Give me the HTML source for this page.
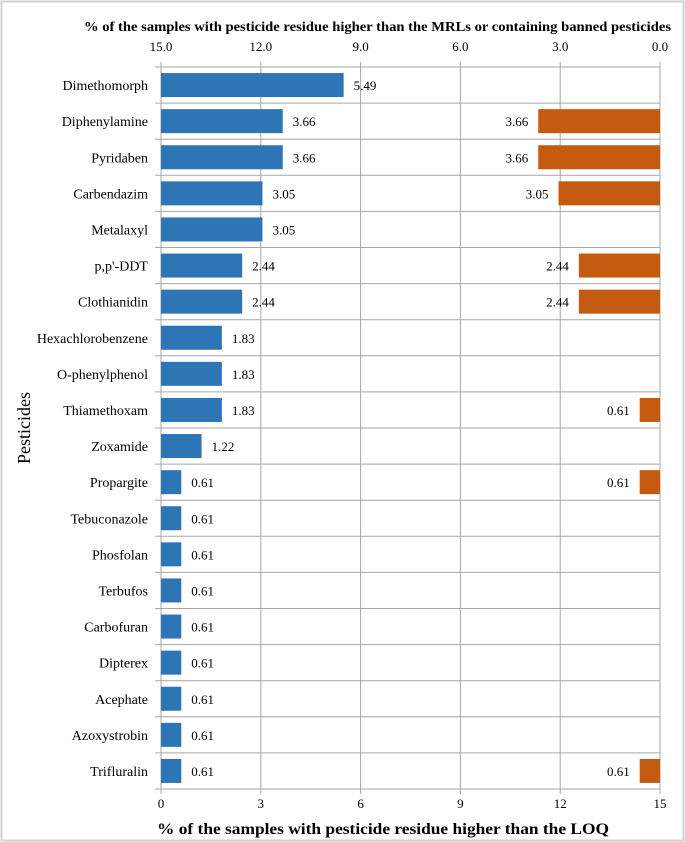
<!DOCTYPE html>
<html><head><meta charset="utf-8"><style>
body{margin:0;background:#fff}
svg{display:block;font-family:"Liberation Serif",serif}
</style></head><body>
<svg id="c" width="685" height="842">
<rect x="1.5" y="1.5" width="682" height="839" fill="#fff" stroke="#d0d0d0" stroke-width="2"/>
<text x="84" y="31" font-size="14" font-weight="bold" textLength="587" lengthAdjust="spacingAndGlyphs">% of the samples  with pesticide residue higher than the MRLs or containing banned pesticides</text>
<text x="157" y="834" font-size="16" font-weight="bold" textLength="452" lengthAdjust="spacingAndGlyphs">% of the samples with pesticide residue higher than the LOQ</text>
<text transform="translate(30,428) rotate(-90)" text-anchor="middle" font-size="18">Pesticides</text>
<g id="g"></g>
</svg>
<script>
const categories=["Dimethomorph","Diphenylamine","Pyridaben","Carbendazim","Metalaxyl","p,p'-DDT","Clothianidin","Hexachlorobenzene","O-phenylphenol","Thiamethoxam","Zoxamide","Propargite","Tebuconazole","Phosfolan","Terbufos","Carbofuran","Dipterex","Acephate","Azoxystrobin","Trifluralin"];
const loqValues=[5.49,3.66,3.66,3.05,3.05,2.44,2.44,1.83,1.83,1.83,1.22,0.61,0.61,0.61,0.61,0.61,0.61,0.61,0.61,0.61];
const mrlValues=[null,3.66,3.66,3.05,null,2.44,2.44,null,null,0.61,null,0.61,null,null,null,null,null,null,null,0.61];
const bottomTicks=[0,3,6,9,12,15];
const topTicks=["15.0","12.0","9.0","6.0","3.0","0.0"];
const NS="http://www.w3.org/2000/svg";
const g=document.getElementById('g');
const X0=161,X1=660,Y0=67,Y1=789,MAX=15;
const xs=v=>X0+v/MAX*(X1-X0);
const xr=v=>X1-v/MAX*(X1-X0);
const band=(Y1-Y0)/categories.length;
const yc=i=>Y0+band*(i+0.5);
function el(t,a,txt){const e=document.createElementNS(NS,t);for(const k in a)e.setAttribute(k,a[k]);if(txt!=null)e.textContent=txt;g.appendChild(e);return e;}
bottomTicks.forEach((t,i)=>{
 const l=el('line',{x1:xs(t),x2:xs(t),y1:Y0-5,y2:Y1+5,stroke:'#a6a6a6','stroke-width':1});
 
 
 const b=el('text',{x:xs(t),y:Y1+19,'text-anchor':'middle','font-size':13},t);
 
 
 const tp=el('text',{x:xs(t),y:51,'text-anchor':'middle','font-size':13},topTicks[i]);
 
 
});
for(let i=0;i<=categories.length;i++){
 const y=Y0+band*i;
 const l=el('line',{x1:X0-6,x2:X1,y1:y,y2:y,stroke:'#a6a6a6','stroke-width':1});
 
 
}
categories.forEach((c,i)=>{
 const y=yc(i);
 const t=el('text',{x:148,y:y+5,'text-anchor':'end','font-size':14},c);
 
 
 const v=loqValues[i];
 const r=el('rect',{x:X0,y:y-12,width:xs(v)-X0,height:24,fill:'#2e75b6'});
 
 
 const vl=el('text',{x:xs(v)+10,y:y+5,'font-size':13},v.toFixed(2));
 
 
 const m=mrlValues[i];
 if(m!=null){
  const r2=el('rect',{x:xr(m),y:y-12,width:X1-xr(m),height:24,fill:'#c55a11'});
  
  
  const ml=el('text',{x:xr(m)-10,y:y+5,'text-anchor':'end','font-size':13},m.toFixed(2));
  
  
 }
});
</script>
</body></html>
